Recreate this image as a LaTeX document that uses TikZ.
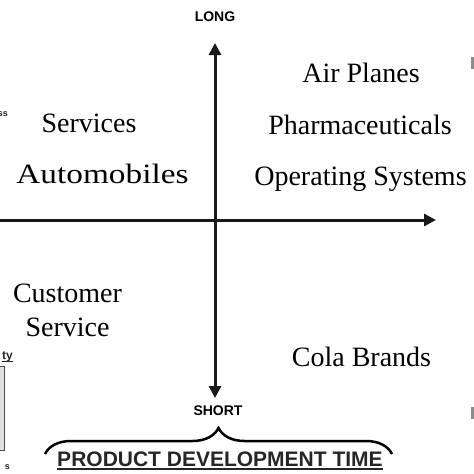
\documentclass[tikz,border=0pt]{standalone}
\usepackage{fontspec}
\setmainfont{Liberation Serif}
\setsansfont{Liberation Sans}
\usetikzlibrary{arrows.meta,decorations.pathreplacing,calc}
\tikzset{
  axis/.style={line width=3pt, draw=black!90, -{Triangle[length=12pt,width=12pt]}},
  item/.style={font=\fontsize{28}{30}\selectfont, inner sep=0pt, anchor=base},
  pole/.style={font=\sffamily\bfseries\fontsize{14}{16}\selectfont, inner sep=0pt, anchor=base},
  frag/.style={font=\sffamily\bfseries\fontsize{9}{10}\selectfont, inner sep=0pt, text=black!85}
}
\begin{document}
\begin{tikzpicture}[x=1pt,y=-1pt]
\useasboundingbox (0,0) rectangle (474,474);
% axes
\coordinate (L) at (0,220);
\coordinate (R) at (436,220);
\coordinate (T) at (215,43);
\coordinate (B) at (215,398);
\draw[axis] (L) -- (R);
\draw[axis, {Triangle[length=12pt,width=12pt]}-{Triangle[length=12pt,width=12pt]}] (B) -- (T);
% poles
\node[pole] (long) at (215,21) {LONG};
\node[pole] (short) at (218,415) {SHORT};
% quadrant items
\node[item] (air) at (361,82) {Air Planes};
\node[item] (pharma) at (360,134) {Pharmaceuticals};
\node[item] (os) at (360.5,185) {Operating Systems};
\node[item] (serv) at (89,132) {Services};
\node[item] (auto) at (102.5,183) {\scalebox{1.19}[1]{Automobiles}};
\node[item] (cust) at (67.5,302) {Customer};
\node[item] (cserv) at (67.5,336) {Service};
\node[item] (cola) at (361.5,366) {Cola Brands};
% brace and label
\coordinate (bl) at (45,454);
\coordinate (br) at (392,454);
\draw[line width=2.5pt, decorate, decoration={brace, amplitude=26pt, raise=0pt}] (bl) -- (br);
\node[font=\sffamily\bfseries\fontsize{21}{23}\selectfont, inner sep=0pt, anchor=base, text=black!85] (pdt) at (220,466) {PRODUCT DEVELOPMENT TIME};
\draw[line width=2pt, black!85] ($(pdt.base west)+(0,3)$) -- ($(pdt.base east)+(0,3)$);
% edge fragments
\node[frag, anchor=base east] (f1) at (8,116) {ss};
\node[frag, anchor=base east, font=\sffamily\bfseries\fontsize{12}{13}\selectfont] (f2) at (13,359) {ty};
\draw[line width=1.2pt, black!85] ($(f2.base west)+(0,2.5)$) -- ($(f2.base east)+(0,2.5)$);
\draw[line width=0.8pt, draw=black!70, fill=black!12] (-10,366) rectangle (4,450);
\node[frag, anchor=base east] (f3) at (10,469) {s};
\fill[black!45] (471,57) rectangle (474,69);
\fill[black!45] (471,407) rectangle (474,419);
\end{tikzpicture}
\end{document}
